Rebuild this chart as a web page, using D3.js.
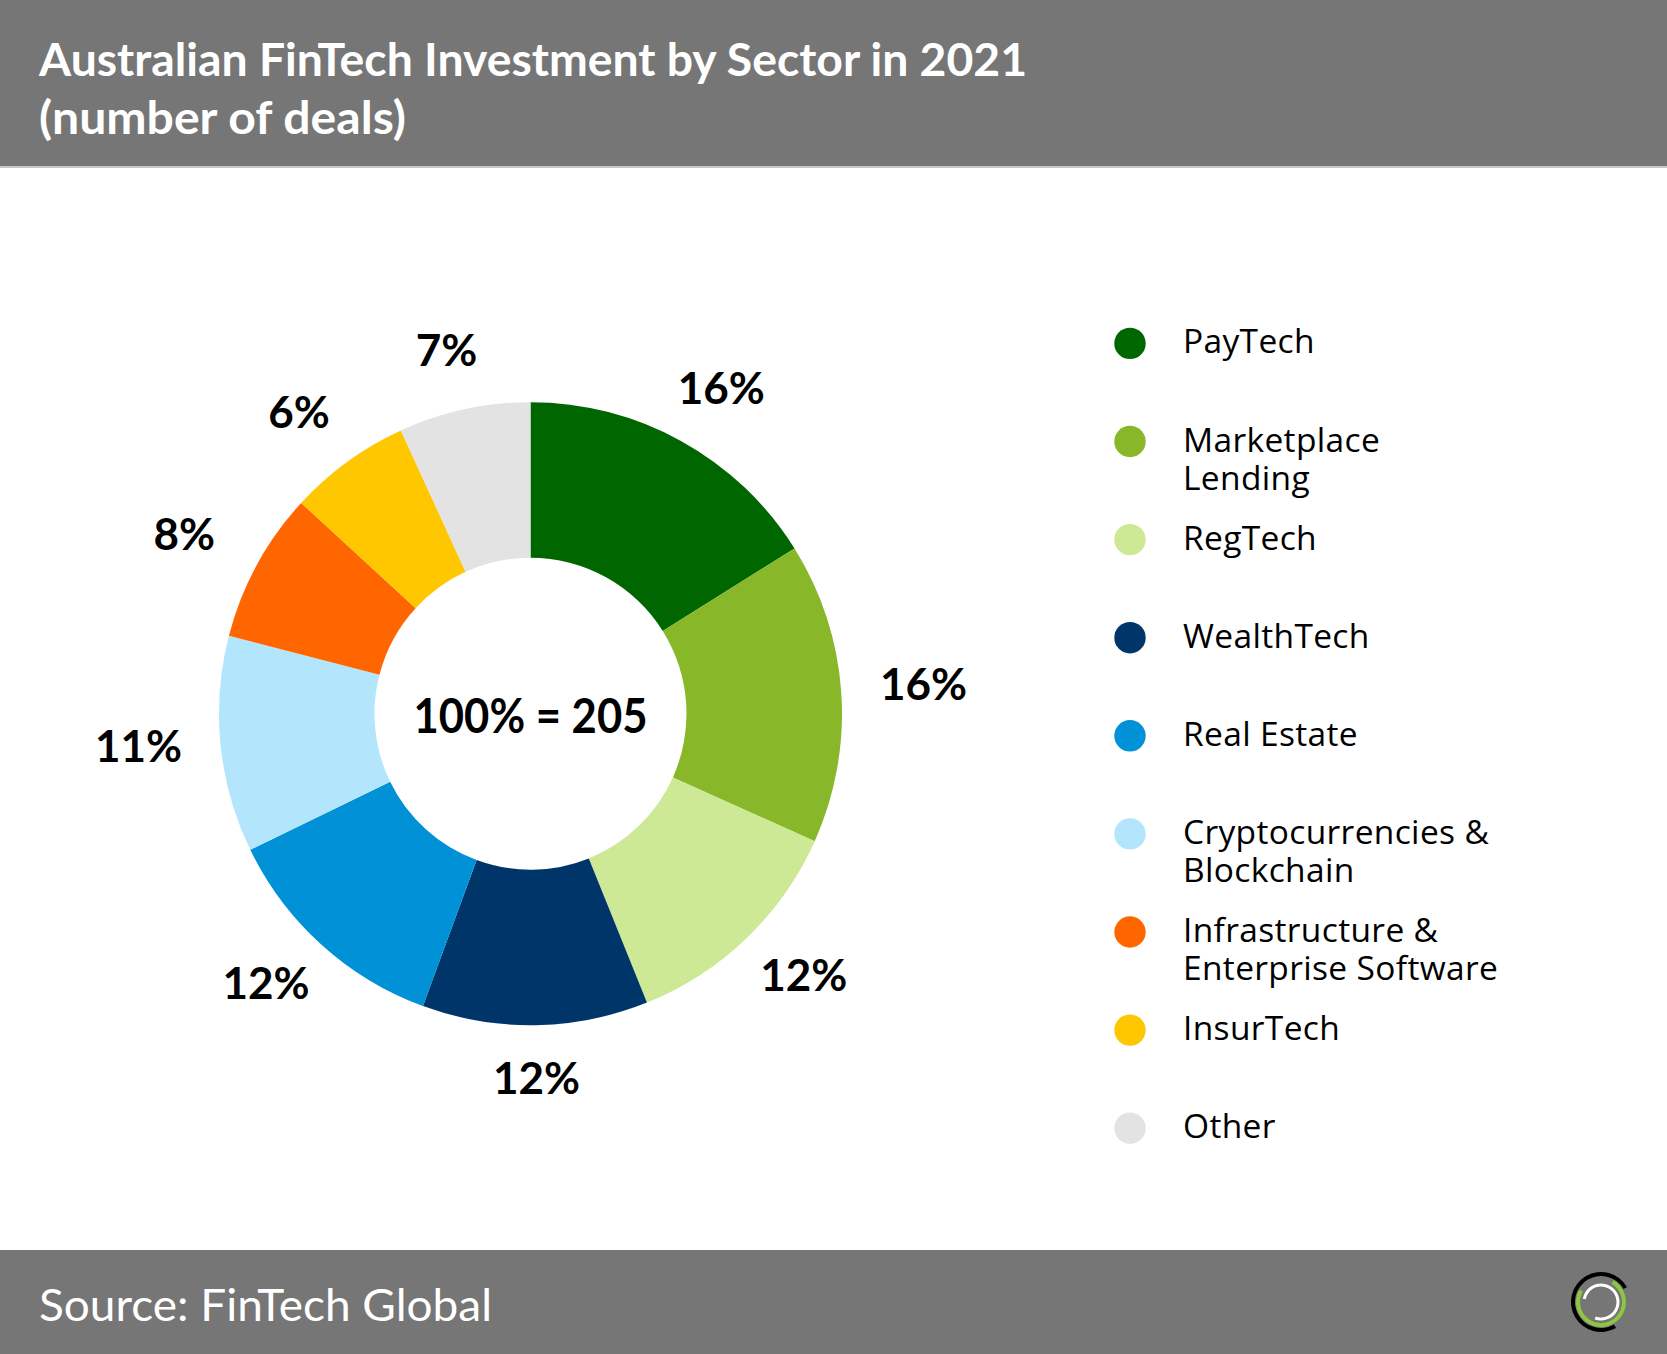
<!DOCTYPE html>
<html><head><meta charset="utf-8">
<script src="https://cdn.jsdelivr.net/npm/d3@7"></script>
<style>html,body{margin:0;padding:0;background:#fff;}svg{display:block;}</style>
</head><body>
<script>
const categories = ["PayTech","Marketplace Lending","RegTech","WealthTech","Real Estate","Cryptocurrencies & Blockchain","Infrastructure & Enterprise Software","InsurTech","Other"];
const legendLines = [["PayTech"],["Marketplace","Lending"],["RegTech"],["WealthTech"],["Real Estate"],["Cryptocurrencies &","Blockchain"],["Infrastructure &","Enterprise Software"],["InsurTech"],["Other"]];
const deals = [33,32,25,24,25,23,16,13,14];
const pctLabels = ["16%","16%","12%","12%","12%","11%","8%","6%","7%"];
const colors = ["#006600","#88B72A","#CDE996","#00356A","#0091D7","#B3E5FC","#FF6600","#FFC700","#E3E3E3"];
const totalDeals = 205;
const titleLines = ["Australian FinTech Investment by Sector in 2021","(number of deals)"];
const sourceText = "Source: FinTech Global";

const W = 1667, H = 1354;
const svg = d3.select("body").append("svg").attr("width", W).attr("height", H);

// header
svg.append("rect").attr("x",0).attr("y",0).attr("width",W).attr("height",166).attr("fill","#767676");
svg.append("rect").attr("x",0).attr("y",166).attr("width",W).attr("height",2).attr("fill","#c8c8c8");
const tl = [{t:titleLines[0], y:76, w:988},{t:titleLines[1], y:134, w:367}];
svg.selectAll("text.title").data(tl).enter().append("text")
  .attr("class","title").attr("x",39).attr("y",d=>d.y)
  .attr("font-family","Lato, sans-serif").attr("font-weight","bold").attr("font-size",46)
  .attr("fill","#fff").attr("textLength",d=>d.w).attr("lengthAdjust","spacingAndGlyphs")
  .text(d=>d.t);

// footer
svg.append("rect").attr("x",0).attr("y",1250).attr("width",W).attr("height",H-1250).attr("fill","#767676");
svg.append("text").attr("x",39).attr("y",1321)
  .attr("font-family","Lato, sans-serif").attr("font-size",44).attr("fill","#fff")
  .attr("textLength",453).attr("lengthAdjust","spacingAndGlyphs").text(sourceText);

// logo
const logo = svg.append("g").attr("transform","translate(1601,1302)");
const la = d3.arc();
const deg = Math.PI/180;
logo.append("path").attr("d", la({innerRadius:26,outerRadius:30,startAngle:150*deg,endAngle:420*deg})).attr("fill","#000");
logo.append("path").attr("d", la({innerRadius:21,outerRadius:25,startAngle:30*deg,endAngle:300*deg})).attr("fill","#8DC63F");
logo.append("path").attr("d", la({innerRadius:15.5,outerRadius:18.5,startAngle:-80*deg,endAngle:200*deg})).attr("fill","#fff");

// donut
const cx = 530.5, cy = 713.7, rOut = 311.5, rIn = 156;
const data = categories.map((c,i)=>({cat:c, v:deals[i], color:colors[i], label:pctLabels[i]}));
const pie = d3.pie().value(d=>d.v).sort(null);
const arcs = pie(data);
const arc = d3.arc().innerRadius(rIn).outerRadius(rOut);
const g = svg.append("g").attr("transform",`translate(${cx},${cy})`);
g.selectAll("path.slice").data(arcs).enter().append("path")
  .attr("class","slice").attr("d",arc).attr("fill",d=>d.data.color);

g.append("text").attr("x",0).attr("y",733.3-cy)
  .attr("text-anchor","middle").attr("font-family","Lato, sans-serif").attr("font-weight","bold")
  .attr("font-size",47).attr("fill","#000").attr("textLength",234).attr("lengthAdjust","spacingAndGlyphs")
  .text("100% = " + totalDeals);

const Rx = 394, Ry = 368;
g.selectAll("text.pct").data(arcs).enter().append("text")
  .attr("class","pct")
  .attr("font-family","Lato, sans-serif").attr("font-weight","bold").attr("font-size",44)
  .attr("fill","#000").attr("text-anchor","middle")
  .attr("x", d => Rx*Math.sin((d.startAngle+d.endAngle)/2))
  .attr("y", d => -Ry*Math.cos((d.startAngle+d.endAngle)/2) + 12)
  .text(d=>d.data.label);

// legend
const lg = svg.append("g");
const items = lg.selectAll("g.item").data(data).enter().append("g").attr("class","item")
  .attr("transform",(d,i)=>`translate(1130,${343.4 + i*98.1})`);
items.append("circle").attr("r",15.7).attr("fill",d=>d.color);
items.each(function(d,i){
  const t = d3.select(this).append("text").attr("x",53).attr("y",10)
    .attr("font-family","'Open Sans', sans-serif").attr("font-size",33.5).attr("letter-spacing",0.35).attr("fill","#000");
  legendLines[i].forEach((ln,j)=>{
    t.append("tspan").attr("x",53).attr("dy", j===0?0:38).text(ln);
  });
});
</script>
</body></html>
